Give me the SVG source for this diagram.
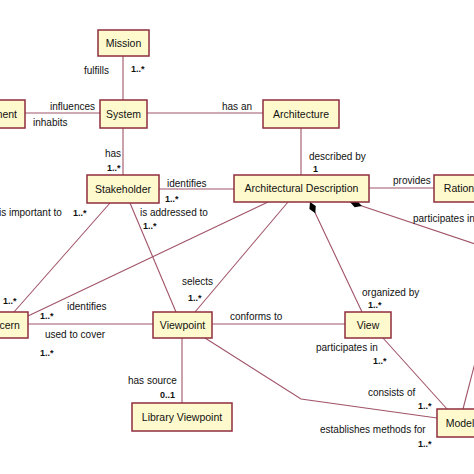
<svg xmlns="http://www.w3.org/2000/svg" width="474" height="474" viewBox="0 0 474 474">
<style>
.box{fill:#FFFACD;stroke:#8E2E3E;stroke-width:1.5}
.nt{font-family:"Liberation Sans",Arial,sans-serif;font-size:10.5px;fill:#111;text-anchor:middle}
.lb{font-family:"Liberation Sans",Arial,sans-serif;font-size:10px;fill:#111}
.m{font-family:"Liberation Sans",Arial,sans-serif;font-size:9px;font-weight:bold;fill:#111}
.ln{fill:none;stroke:#A05468;stroke-width:1.1}
</style>
<defs>
<marker id="dia" markerUnits="userSpaceOnUse" markerWidth="14" markerHeight="10" refX="0" refY="4" orient="auto" viewBox="0 0 14 8">
<path d="M0,4 L6,0.5 L12.5,4 L6,7.5 Z" fill="#000"/>
</marker>
</defs>
<rect width="474" height="474" fill="#fff"/>
<g id="connectors">
<line class="ln" x1="123" y1="56" x2="123" y2="100"/>
<line class="ln" x1="123" y1="128" x2="123" y2="175"/>
<line class="ln" x1="25" y1="113" x2="100" y2="113"/>
<line class="ln" x1="147" y1="113" x2="263" y2="113"/>
<line class="ln" x1="301" y1="128" x2="301" y2="175"/>
<line class="ln" x1="369" y1="188" x2="434" y2="188"/>
<line class="ln" x1="159" y1="189" x2="234" y2="189"/>
<line class="ln" x1="110" y1="203" x2="14" y2="312"/>
<line class="ln" x1="130" y1="203" x2="176" y2="312"/>
<line class="ln" x1="268" y1="202" x2="28" y2="316"/>
<line class="ln" x1="288" y1="202" x2="195" y2="312"/>
<line class="ln" x1="310" y1="202" x2="362" y2="312" marker-start="url(#dia)"/>
<line class="ln" x1="350" y1="202" x2="478" y2="245" marker-start="url(#dia)"/>
<line class="ln" x1="28" y1="324" x2="153" y2="324"/>
<line class="ln" x1="212" y1="324" x2="345" y2="324"/>
<line class="ln" x1="182" y1="338" x2="182" y2="403"/>
<line class="ln" x1="383" y1="338" x2="447" y2="409"/>
<polyline class="ln" points="205,338 301,399 437,418"/>
<line class="ln" x1="463" y1="409" x2="477" y2="355"/>
</g>
<g id="mission"><rect class="box" x="98" y="30" width="51" height="26"/><text class="nt" x="123.5" y="47">Mission</text></g>
<g id="environment"><rect class="box" x="-50" y="100" width="75" height="28"/><text class="nt" x="-12.5" y="118">Environment</text></g>
<g id="system"><rect class="box" x="100" y="100" width="47" height="28"/><text class="nt" x="123.5" y="118">System</text></g>
<g id="architecture"><rect class="box" x="263" y="100" width="76" height="28"/><text class="nt" x="301" y="118">Architecture</text></g>
<g id="architectural-description"><rect class="box" x="234" y="175" width="135" height="27"/><text class="nt" x="301.5" y="192">Architectural Description</text></g>
<g id="rationale"><rect class="box" x="434" y="175" width="62" height="27"/><text class="nt" x="466" y="192">Rationale</text></g>
<g id="stakeholder"><rect class="box" x="87" y="175" width="72" height="28"/><text class="nt" x="123" y="193">Stakeholder</text></g>
<g id="concern"><rect class="box" x="-28" y="312" width="56" height="26"/><text class="nt" x="0" y="329">Concern</text></g>
<g id="viewpoint"><rect class="box" x="153" y="312" width="59" height="26"/><text class="nt" x="182.5" y="329">Viewpoint</text></g>
<g id="view"><rect class="box" x="345" y="312" width="46" height="26"/><text class="nt" x="368" y="329">View</text></g>
<g id="library-viewpoint"><rect class="box" x="132" y="403" width="100" height="28"/><text class="nt" x="182" y="421">Library Viewpoint</text></g>
<g id="model"><rect class="box" x="437" y="409" width="52" height="28"/><text class="nt" x="460" y="427">Model</text></g>
<g id="labels">
<text class="lb" x="84" y="74">fulfills</text>
<text class="m" x="131" y="72">1..*</text>
<text class="lb" x="50" y="110">influences</text>
<text class="lb" x="33" y="126">inhabits</text>
<text class="lb" x="222" y="110">has an</text>
<text class="lb" x="309" y="160">described by</text>
<text class="m" x="313" y="172">1</text>
<text class="lb" x="393" y="184">provides</text>
<text class="lb" x="105" y="157">has</text>
<text class="m" x="107" y="171">1..*</text>
<text class="lb" x="167" y="187">identifies</text>
<text class="m" x="165" y="202">1..*</text>
<text class="lb" x="-1" y="216">is important to</text>
<text class="m" x="73" y="216">1..*</text>
<text class="lb" x="140" y="216">is addressed to</text>
<text class="m" x="143" y="229">1..*</text>
<text class="lb" x="413" y="222">participates in</text>
<text class="lb" x="182" y="285">selects</text>
<text class="m" x="188" y="301">1..*</text>
<text class="lb" x="362" y="296">organized by</text>
<text class="m" x="368" y="308">1..*</text>
<text class="m" x="3" y="304">1..*</text>
<text class="lb" x="67" y="310">identifies</text>
<text class="m" x="40" y="319">1..*</text>
<text class="lb" x="45" y="338">used to cover</text>
<text class="m" x="40" y="356">1..*</text>
<text class="lb" x="230" y="320">conforms to</text>
<text class="lb" x="128" y="384">has source</text>
<text class="m" x="160" y="398">0..1</text>
<text class="lb" x="316" y="351">participates in</text>
<text class="m" x="373" y="364">1..*</text>
<text class="lb" x="368" y="396">consists of</text>
<text class="m" x="418" y="409">1..*</text>
<text class="lb" x="320" y="433">establishes methods for</text>
<text class="m" x="418" y="447">1..*</text>
</g>
</svg>
